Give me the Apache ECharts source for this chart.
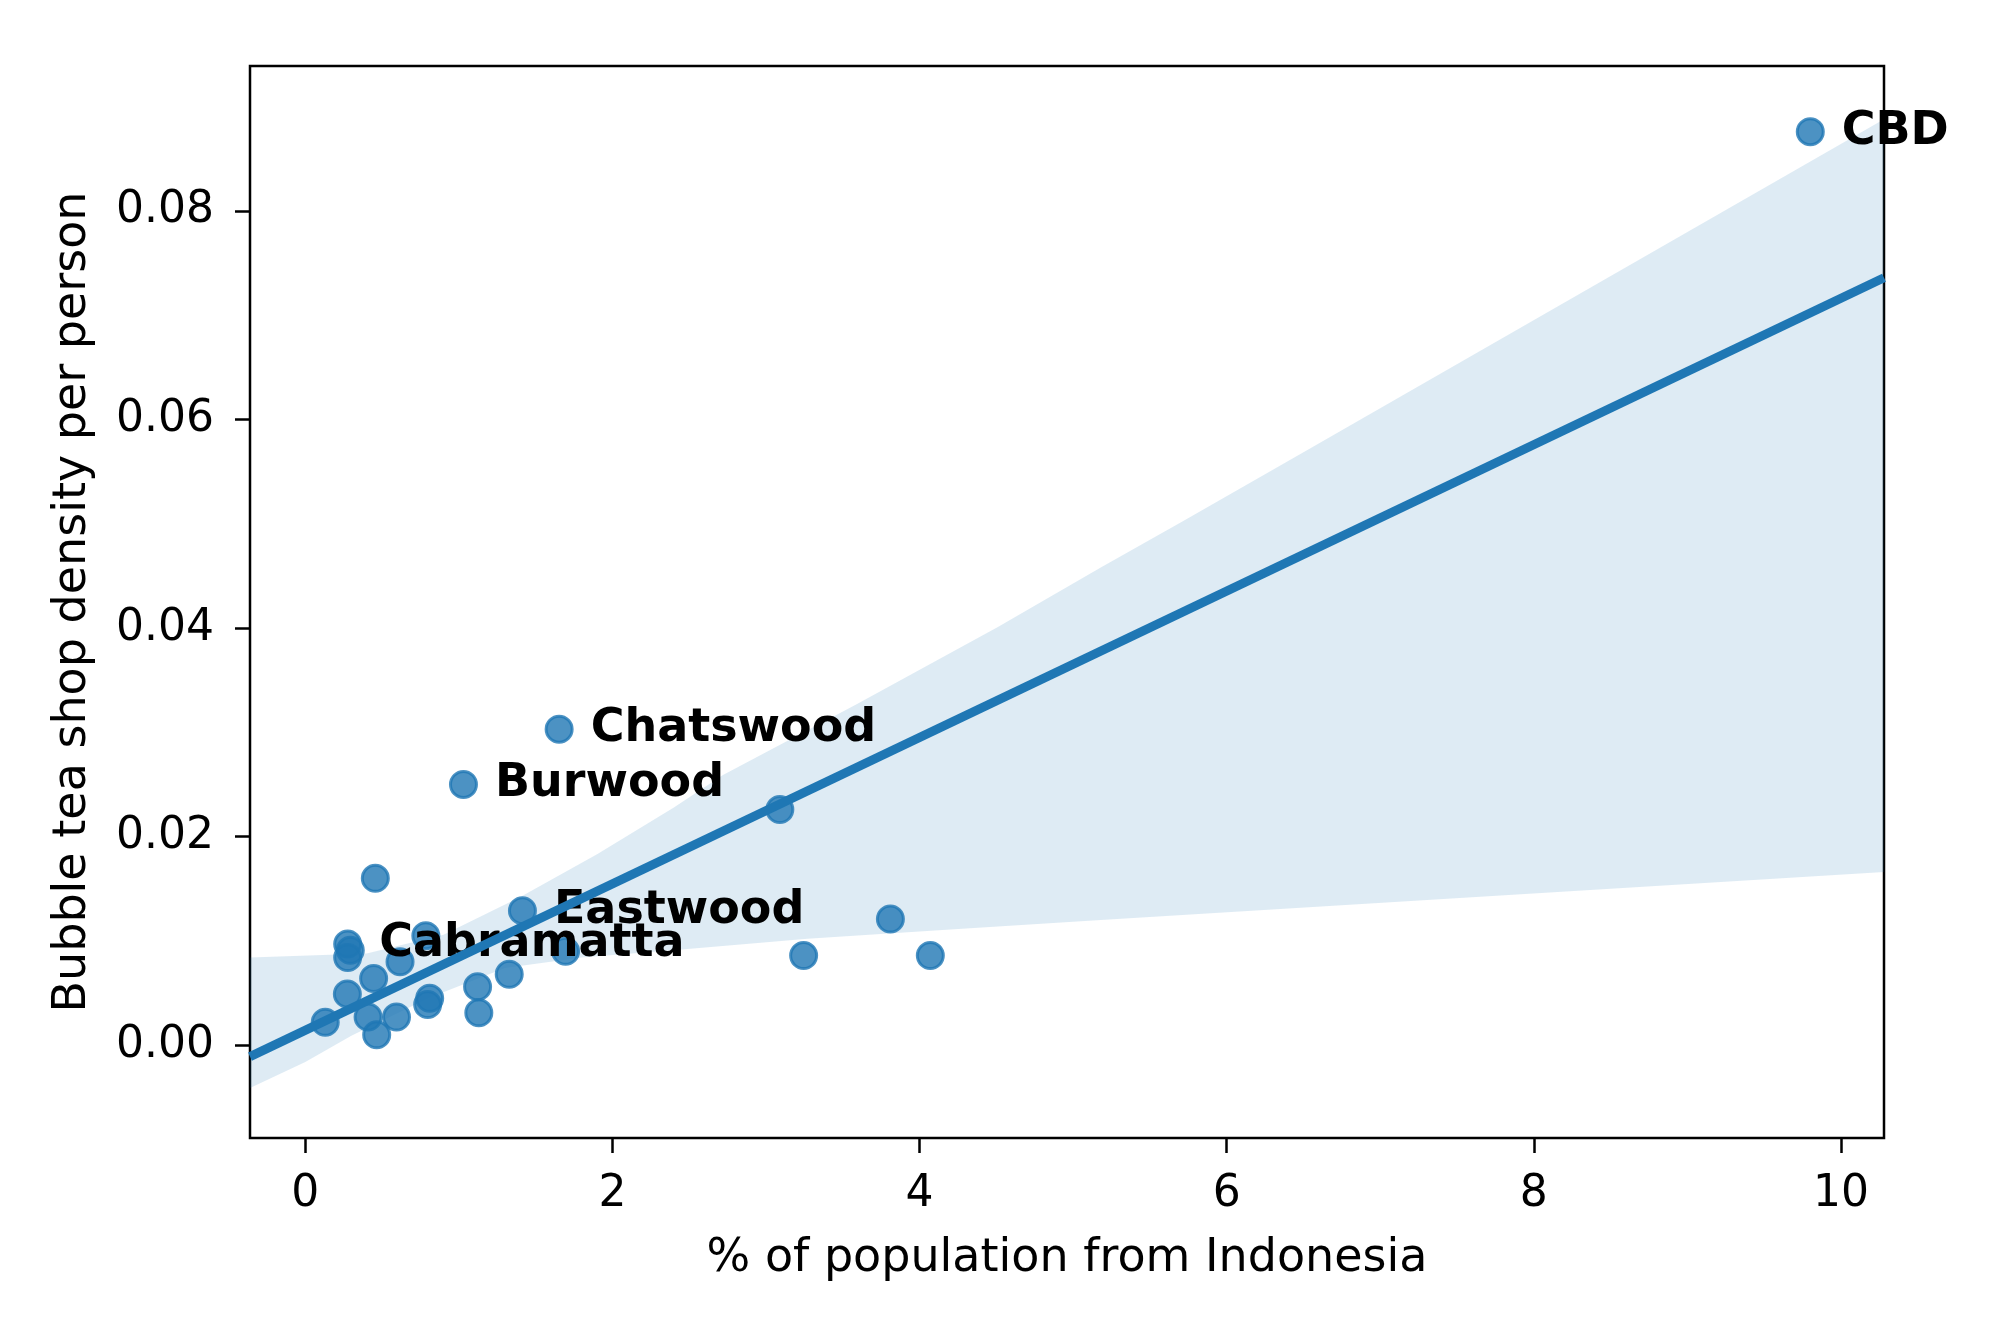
<!DOCTYPE html>
<html>
<head>
<meta charset="utf-8">
<script src="https://cdn.jsdelivr.net/npm/echarts@6/dist/echarts.min.js"></script>
<style>
html, body { margin: 0; padding: 0; background: #fff; }
#chart { width: 2000px; height: 1333px; }
</style>
</head>
<body>
<div id="chart"></div>
<script>
// % of population from Indonesia, per suburb
var pctIndonesia = [9.80, 1.653, 1.03, 3.09, 0.456, 1.414, 3.81, 0.276, 0.293, 0.276,
	0.785, 0.617, 1.695, 3.245, 4.07, 0.445, 1.328, 0.274, 1.122, 0.81, 0.797,
	1.13, 0.409, 0.594, 0.13, 0.465];
// bubble tea shop density per person
var shopDensity = [0.0876, 0.0303, 0.0250, 0.0226, 0.0160, 0.0129, 0.0121, 0.0097, 0.0091, 0.0084,
	0.0105, 0.0080, 0.0090, 0.0086, 0.0086, 0.0064, 0.0068, 0.0049, 0.0056, 0.0045, 0.0039,
	0.0031, 0.0027, 0.0027, 0.0022, 0.0010];
var suburbNames = ["CBD", "Chatswood", "Burwood", "", "", "Eastwood", "", "Cabramatta", "", "",
	"", "", "", "", "", "", "", "", "", "", "", "", "", "", "", ""];

// fitted regression line (ends at the axis limits)
var lineX = [-0.36, 10.28];
var lineY = [-0.0011, 0.0736];

// confidence band edges
var bandUpperX = [-0.36, 0.4, 0.9, 1.4, 1.9, 2.4, 2.72, 3.59, 4.51, 5.18, 5.72, 6.48, 10.28];
var bandUpperY = [0.0084, 0.0088, 0.0106, 0.0142, 0.0183, 0.0228, 0.0259, 0.0327, 0.0401, 0.0458, 0.0503, 0.0567, 0.0888];
var bandLowerX = [-0.36, 0, 0.3, 0.8, 1.3, 1.8, 2.47, 3.27, 4.2, 5.18, 10.28];
var bandLowerY = [-0.0041, -0.0016, 0.0009, 0.0045, 0.0074, 0.0084, 0.0092, 0.0102, 0.0111, 0.0120, 0.0166];

var xTicks = [0, 2, 4, 6, 8, 10];
var yTicks = [0, 0.02, 0.04, 0.06, 0.08];

var font = "'DejaVu Sans', sans-serif";
var blue = "#1f77b4";

function zip(a, b) {
	var out = [];
	for (var i = 0; i < a.length; i++) out.push([a[i], b[i]]);
	return out;
}

var chart = echarts.init(document.getElementById("chart"));
var option = {
	animation: false,
	backgroundColor: "#fff",
	grid: {
		left: 250, right: 116, top: 66, bottom: 195,
		show: true, borderColor: "#000", borderWidth: 2.5, backgroundColor: "transparent"
	},
	xAxis: {
		type: "value", min: -0.36, max: 10.28,
		name: "% of population from Indonesia", nameLocation: "middle", nameGap: 98,
		nameTextStyle: { fontFamily: font, fontSize: 46, color: "#000" },
		axisLine: { show: false, onZero: false },
		splitLine: { show: false },
		axisTick: { show: true, customValues: xTicks, length: 15, lineStyle: { color: "#000", width: 2.5 } },
		axisLabel: { customValues: xTicks, fontFamily: font, fontSize: 44, color: "#000", margin: 35 }
	},
	yAxis: {
		type: "value", min: -0.0089, max: 0.0939,
		name: "Bubble tea shop density per person", nameLocation: "middle", nameGap: 154,
		nameTextStyle: { fontFamily: font, fontSize: 46, color: "#000" },
		axisLine: { show: false, onZero: false },
		splitLine: { show: false },
		axisTick: { show: true, customValues: yTicks, length: 15, lineStyle: { color: "#000", width: 2.5 } },
		axisLabel: {
			customValues: yTicks, fontFamily: font, fontSize: 44, color: "#000", margin: 36,
			formatter: function(v) { return v.toFixed(2); }
		}
	},
	series: [{
		type: "custom",
		silent: true,
		z: 1,
		data: [[0, 0]],
		renderItem: function(params, api) {
			var pts = [], i;
			for (i = 0; i < bandUpperX.length; i++) pts.push(api.coord([bandUpperX[i], bandUpperY[i]]));
			for (i = bandLowerX.length - 1; i >= 0; i--) pts.push(api.coord([bandLowerX[i], bandLowerY[i]]));
			return { type: "polygon", shape: { points: pts }, style: { fill: "rgba(31,119,180,0.15)" } };
		}
	}, {
		type: "scatter",
		z: 2,
		data: zip(pctIndonesia, shopDensity),
		symbolSize: 26,
		itemStyle: { color: "rgba(31,119,180,0.8)", borderColor: "rgba(31,119,180,0.8)", borderWidth: 3, opacity: 1 },
		label: {
			show: true, position: "right", distance: 17, opacity: 1,
			fontFamily: font, fontWeight: "bold", fontSize: 46, color: "#000", textBorderWidth: 0,
			formatter: function(p) { return suburbNames[p.dataIndex]; }
		},
		labelLayout: { hideOverlap: false }
	}, {
		type: "line",
		z: 3,
		data: zip(lineX, lineY),
		showSymbol: false,
		silent: true,
		lineStyle: { color: blue, width: 9 }
	}]
};
chart.setOption(option);
</script>
</body>
</html>
